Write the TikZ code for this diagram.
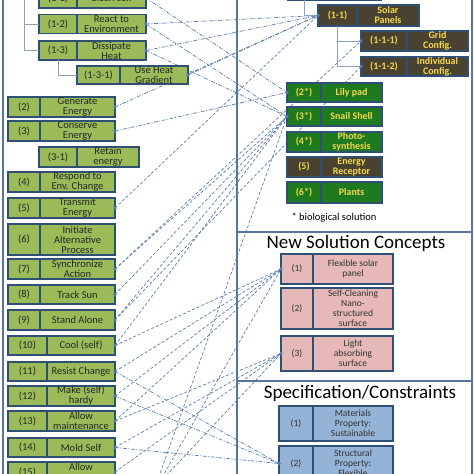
\documentclass[tikz,border=0pt]{standalone}
\usepackage{fontspec}
\setmainfont{Carlito}
\usetikzlibrary{positioning,backgrounds}
\definecolor{fgreen}{HTML}{9BBB59}
\definecolor{bordr}{HTML}{2F4F75}
\definecolor{sbrown}{HTML}{4A4230}
\definecolor{sgreen}{HTML}{1E7A1E}
\definecolor{syel}{HTML}{F5D94E}
\definecolor{cpink}{HTML}{E6B9B8}
\definecolor{pblue}{HTML}{95B3D7}
\definecolor{lnkc}{HTML}{5A7CAE}
\definecolor{framec}{HTML}{56769E}
\definecolor{treec}{HTML}{8EA1BC}

\begin{document}
\begin{tikzpicture}[x=1pt,y=-1pt]
        \tikzstyle{cell}=[rectangle,draw=bordr,line width=1.1pt,outer sep=0pt,inner xsep=1pt,inner ysep=0pt,align=center,font=\fontsize{10.5}{10}\selectfont]
        \tikzstyle{fun}=[cell,fill=fgreen,text=black!85]
        \tikzstyle{sol}=[cell,fill=sbrown,text=syel,font=\bfseries\fontsize{10}{10}\selectfont]
        \tikzstyle{bio}=[sol,fill=sgreen]
        \tikzstyle{concept}=[cell,fill=cpink,text=black!80,font=\fontsize{9.5}{10}\selectfont]
        \tikzstyle{spec}=[cell,fill=pblue,text=black!80,font=\fontsize{9.5}{10}\selectfont]
        \tikzstyle{frame}=[framec,line width=1.4pt]
        \tikzstyle{tree}=[treec,line width=0.9pt]
        \tikzstyle{link}=[lnkc,line width=0.7pt,dash pattern=on 4pt off 1.5pt on 1pt off 1.5pt]
        \tikzstyle{link2}=[lnkc,line width=0.7pt,dash pattern=on 3pt off 2pt]
        \useasboundingbox (0,0) rectangle (474,474);
        \clip (0,0) rectangle (474,474);
        % panel frame
        \draw [frame] (3,0) -- (3,474);
        \draw [frame] (237,0) -- (237,474);
        \draw [frame] (472,0) -- (472,474);
        \draw [frame] (237,232) -- (472,232);
        \draw [frame] (237,381) -- (472,381);
        % functions
        \node [fun,minimum width=38,minimum height=20,anchor=west] (idc) at (39,-2) {(1-1)};
        \node [fun,minimum width=69,minimum height=20,right=0pt of idc] (fc) {Clean self};
        \node [fun,minimum width=38,minimum height=19,anchor=west] (idr) at (39,24) {(1-2)};
        \node [fun,minimum width=69,minimum height=19,right=0pt of idr] (fr) {React to\\Environment};
        \node [fun,minimum width=38,minimum height=19,anchor=west] (idd) at (39,50.5) {(1-3)};
        \node [fun,minimum width=69,minimum height=19,right=0pt of idd] (fd) {Dissipate\\Heat};
        \node [fun,minimum width=43,minimum height=18,anchor=west] (idh) at (77,75) {(1-3-1)};
        \node [fun,minimum width=68,minimum height=18,right=0pt of idh] (fh) {Use Heat\\Gradient};
        \node [fun,minimum width=32,minimum height=20,anchor=west] (idgen) at (8,107) {(2)};
        \node [fun,minimum width=75,minimum height=20,right=0pt of idgen] (fgen) {Generate\\Energy};
        \node [fun,minimum width=32,minimum height=20,anchor=west] (idcons) at (8,131) {(3)};
        \node [fun,minimum width=75,minimum height=20,right=0pt of idcons] (fcons) {Conserve\\Energy};
        \node [fun,minimum width=38,minimum height=20,anchor=west] (idret) at (39,157) {(3-1)};
        \node [fun,minimum width=62,minimum height=20,right=0pt of idret] (fret) {Retain\\energy};
        \node [fun,minimum width=32,minimum height=20,anchor=west] (idresp) at (8,182) {(4)};
        \node [fun,minimum width=75,minimum height=20,right=0pt of idresp] (fresp) {Respond to\\Env. Change};
        \node [fun,minimum width=32,minimum height=20,anchor=west] (idtrans) at (8,208) {(5)};
        \node [fun,minimum width=75,minimum height=20,right=0pt of idtrans] (ftrans) {Transmit\\Energy};
        \node [fun,minimum width=32,minimum height=31,anchor=west] (idinit) at (8,239.5) {(6)};
        \node [fun,minimum width=75,minimum height=31,right=0pt of idinit] (finit) {Initiate\\Alternative\\Process};
        \node [fun,minimum width=32,minimum height=20,anchor=west] (idsync) at (8,269) {(7)};
        \node [fun,minimum width=75,minimum height=20,right=0pt of idsync] (fsync) {Synchronize\\Action};
        \node [fun,minimum width=32,minimum height=19,anchor=west] (idtrack) at (8,294.5) {(8)};
        \node [fun,minimum width=75,minimum height=19,right=0pt of idtrack] (ftrack) {Track Sun};
        \node [fun,minimum width=32,minimum height=20,anchor=west] (idstand) at (8,320) {(9)};
        \node [fun,minimum width=75,minimum height=20,right=0pt of idstand] (fstand) {Stand Alone};
        \node [fun,minimum width=39,minimum height=19,anchor=west] (idcool) at (8,345.5) {(10)};
        \node [fun,minimum width=68,minimum height=19,right=0pt of idcool] (fcool) {Cool (self)};
        \node [fun,minimum width=39,minimum height=19,anchor=west] (idresist) at (8,371.5) {(11)};
        \node [fun,minimum width=68,minimum height=19,right=0pt of idresist] (fresist) {Resist Change};
        \node [fun,minimum width=39,minimum height=20,anchor=west] (idhardy) at (8,396) {(12)};
        \node [fun,minimum width=68,minimum height=20,right=0pt of idhardy] (fhardy) {Make (self)\\hardy};
        \node [fun,minimum width=39,minimum height=20,anchor=west] (idmaint) at (8,421) {(13)};
        \node [fun,minimum width=68,minimum height=20,right=0pt of idmaint] (fmaint) {Allow\\maintenance};
        \node [fun,minimum width=39,minimum height=19,anchor=west] (idmold) at (8,447.5) {(14)};
        \node [fun,minimum width=68,minimum height=19,right=0pt of idmold] (fmold) {Mold Self};
        \node [fun,minimum width=39,minimum height=20,anchor=west] (idallow) at (8,472) {(15)};
        \node [fun,minimum width=68,minimum height=20,right=0pt of idallow] (fallow) {Allow\\\mbox{}};
        \coordinate (top1) at (24,-15);
        \draw [tree] (top1) |- (idr.west);
        \draw [tree] (top1) |- (idd.west);
        \draw [tree] (idd.south) |- (idh.west);
        % solutions
        \node [sol,minimum width=93,minimum height=21] (stop) at (334.5,-10) {};
        \node [sol,minimum width=39,minimum height=21,anchor=west] (idpanel) at (318,15.5) {(1-1)};
        \node [sol,minimum width=62,minimum height=21,right=0pt of idpanel] (spanel) {Solar\\Panels};
        \node [sol,minimum width=46,minimum height=20,anchor=west] (idgrid) at (361,41) {(1-1-1)};
        \node [sol,minimum width=61,minimum height=20,right=0pt of idgrid] (sgrid) {Grid\\Config.};
        \node [sol,minimum width=46,minimum height=19,anchor=west] (idindiv) at (361,66.5) {(1-1-2)};
        \node [sol,minimum width=61,minimum height=19,right=0pt of idindiv] (sindiv) {Individual\\Config.};
        \coordinate (topr) at (304,0);
        \draw [tree] (topr) |- (idpanel.west);
        \draw [tree] (idpanel.south) |- (idgrid.west);
        \draw [tree] (idpanel.south) |- (idindiv.west);
        \node [bio,minimum width=34,minimum height=19,anchor=west] (idlily) at (287,92.5) {(2*)};
        \node [bio,minimum width=61,minimum height=19,right=0pt of idlily] (slily) {Lily pad};
        \node [bio,minimum width=34,minimum height=19,anchor=west] (idsnail) at (287,116.5) {(3*)};
        \node [bio,minimum width=61,minimum height=19,right=0pt of idsnail] (ssnail) {Snail Shell};
        \node [bio,minimum width=34,minimum height=20,anchor=west] (idphoto) at (287,142) {(4*)};
        \node [bio,minimum width=61,minimum height=20,right=0pt of idphoto] (sphoto) {Photo-\\synthesis};
        \node [sol,minimum width=34,minimum height=20,anchor=west] (idrecep) at (287,167) {(5)};
        \node [sol,minimum width=61,minimum height=20,right=0pt of idrecep] (srecep) {Energy\\Receptor};
        \node [bio,minimum width=34,minimum height=21,anchor=west] (idplant) at (287,192.5) {(6*)};
        \node [bio,minimum width=61,minimum height=21,right=0pt of idplant] (splant) {Plants};
        \node [font=\fontsize{10.5}{11}\selectfont] (bionote) at (334,218) {* biological solution};
        % new concepts
        \node [font=\fontsize{19}{20}\selectfont] (tnew) at (356,243) {New Solution Concepts};
        \node [concept,minimum width=32,minimum height=30,anchor=west] (idflex) at (281,269) {(1)};
        \node [concept,minimum width=80,minimum height=30,right=0pt of idflex] (cflex) {Flexible solar\\panel};
        \node [concept,minimum width=32,minimum height=41,anchor=west] (idclean) at (281,308.5) {(2)};
        \node [concept,minimum width=80,minimum height=41,right=0pt of idclean] (cclean) {Self-Cleaning\\Nano-\\structured\\surface};
        \node [concept,minimum width=32,minimum height=35,anchor=west] (idlight) at (281,353.5) {(3)};
        \node [concept,minimum width=80,minimum height=35,right=0pt of idlight] (clight) {Light\\absorbing\\surface};
        % specifications
        \node [font=\fontsize{19}{20}\selectfont] (tspec) at (360,393) {Specification/Constraints};
        \node [spec,minimum width=34,minimum height=35,anchor=west] (idmat) at (279,423.5) {(1)};
        \node [spec,minimum width=80,minimum height=35,right=0pt of idmat] (pmat) {Materials\\Property:\\Sustainable};
        \node [spec,minimum width=34,minimum height=35,anchor=west] (idstruct) at (279,463.5) {(2)};
        \node [spec,minimum width=80,minimum height=35,right=0pt of idstruct] (pstruct) {Structural\\Property:\\Flexible};
        % mappings, behind the boxes
        \coordinate (low1) at (115,560);
        \coordinate (low2) at (115,600);
        \coordinate (low3) at (115,530);
        \begin{scope}[on background layer]
            \clip (0,0) rectangle (474,474);
            \draw [link] (fc.east) -- (idlily.west);
            \draw [link] (fr.east) -- (idpanel.west);
            \draw [link] (fr.east) -- (idsnail.west);
            \draw [link] (fd.east) -- (idpanel.west);
            \draw [link] (fd.east) -- (idsnail.west);
            \draw [link] (fh.east) -- (idpanel.west);
            \draw [link] (fgen.east) -- (idpanel.west);
            \draw [link] (fcons.east) -- (idlily.west);
            \draw [link2] (ftrans.east) -- (idpanel.west);
            \draw [link2] (fsync.east) -- (idgrid.west);
            \draw [link2] (fstand.east) -- (idindiv.west);
            \draw [link2] (fsync.east) -- (idsnail.west);
            \draw [link2] (ftrack.east) -- (idsnail.west);
            \draw [link2] (fstand.east) -- (idsnail.west);
            \draw [link2] (fcool.east) -- (idsnail.west);
            \draw [link2] (fcool.east) -- (idflex.west);
            \draw [link2] (fresist.east) -- (idflex.west);
            \draw [link2] (fhardy.east) -- (idflex.west);
            \draw [link2] (fmaint.east) -- (idflex.west);
            \draw [link2] (fmaint.east) -- (idlight.west);
            \draw [link2] (fmold.east) -- (idlight.west);
            \draw [link2] (fallow.east) -- (idlight.west);
            \draw [link2] (low1) -- (idflex.west);
            \draw [link2] (low2) -- (idsnail.west);
            \draw [link2] (low3) -- (idlight.west);
            \draw [link] (fresist.east) -- (idstruct.west);
            \draw [link] (fhardy.east) -- (idstruct.west);
            \draw [link] (fmold.east) -- (idstruct.west);
        \end{scope}
        \fill [lnkc] (fc.east) circle (1.9) (fr.east) circle (1.9) (fd.east) circle (1.9) (fh.east) circle (1.9)
            (fgen.east) circle (1.9) (fcons.east) circle (1.9) (ftrans.east) circle (1.9) (fsync.east) circle (1.9)
            (ftrack.east) circle (1.9) (fstand.east) circle (1.9) (fcool.east) circle (1.9) (fresist.east) circle (1.9)
            (fhardy.east) circle (1.9) (fmaint.east) circle (1.9) (fmold.east) circle (1.9) (fallow.east) circle (1.9)
            (idpanel.west) circle (1.9) (idgrid.west) circle (1.9) (idindiv.west) circle (1.9) (idlily.west) circle (1.9)
            (idsnail.west) circle (1.9) (idflex.west) circle (1.9) (idlight.west) circle (1.9) (idstruct.west) circle (1.9);
    \end{tikzpicture}
\end{document}
